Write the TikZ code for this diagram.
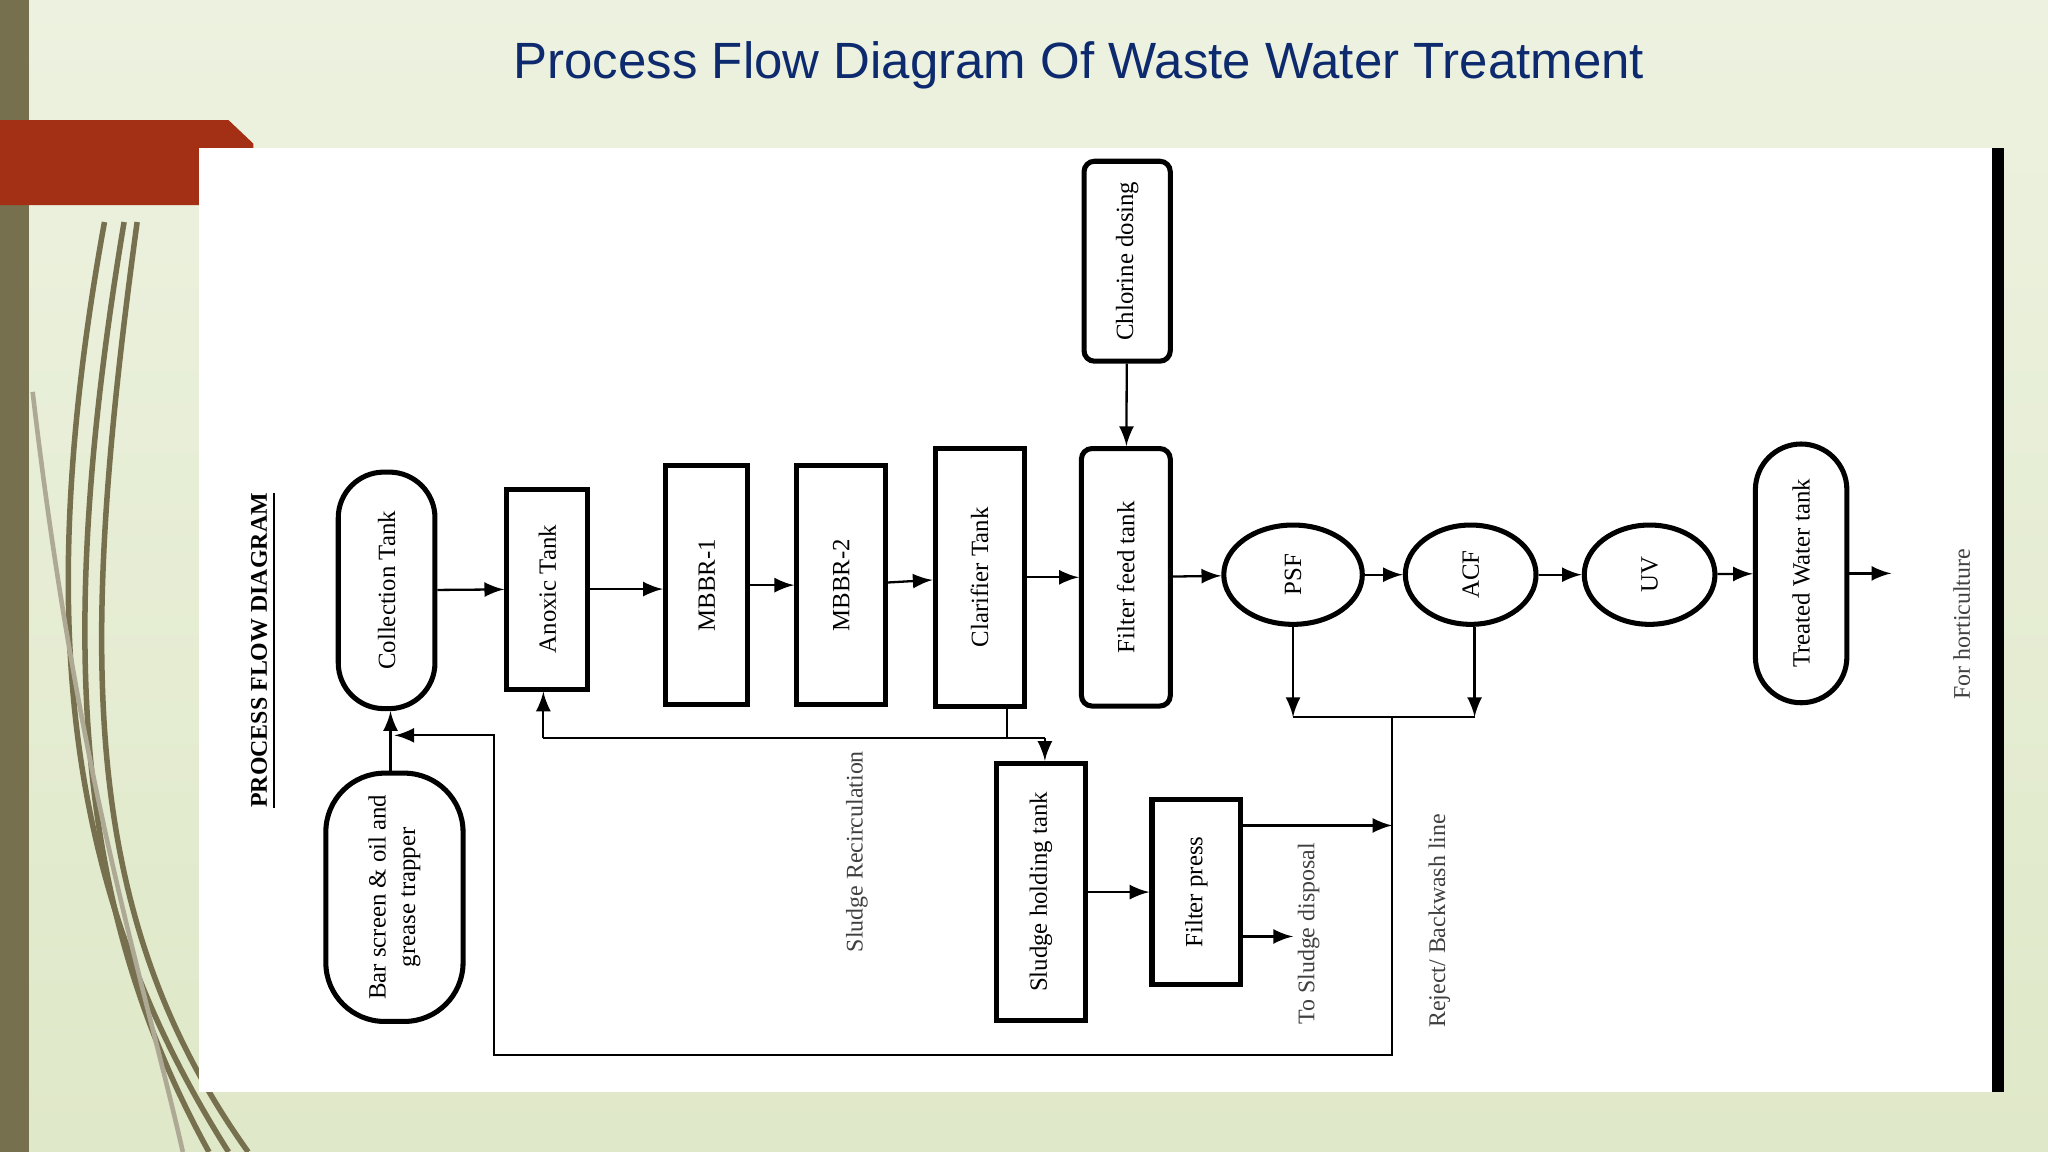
\documentclass[tikz,border=0pt]{standalone}
\usepackage{fontspec}
\setmainfont{Liberation Serif}
\newfontfamily\titlefont{Liberation Sans}
\usetikzlibrary{shapes.geometric, arrows}
\definecolor{slidebg}{HTML}{DFE8C8}
\definecolor{slidetop}{HTML}{EDF2E0}
\definecolor{olivebar}{HTML}{77704F}
\definecolor{tabred}{HTML}{A33014}
\definecolor{navytitle}{HTML}{0E2A6E}
\tikzstyle{tank} = [draw=black, line width=1.1pt, rectangle, rotate=90, text centered, font=\fontsize{5.4}{6.4}\selectfont, inner sep=1pt]
\tikzstyle{roundtank} = [tank, rounded corners=0.35cm]
\tikzstyle{filter} = [draw=black, line width=1.1pt, ellipse, rotate=90, font=\fontsize{5.4}{6.4}\selectfont, inner sep=1pt]
\tikzstyle{note} = [rotate=90, font=\fontsize{5.2}{6.2}\selectfont, text=black!75]
\tikzstyle{arrow} = [line width=0.5pt, ->, >=latex]
\tikzstyle{pipe} = [line width=0.5pt]

\begin{document}
\begin{tikzpicture}[x=0.01cm, y=-0.01cm]
\useasboundingbox (0,0) rectangle (1568,882);
% slide background
\shade[top color=slidetop, bottom color=slidebg] (0,0) rectangle (1568,882);
\fill[olivebar] (0,0) rectangle (22,882);
\foreach \a/\b/\c in {80/20/175, 95/40/160, 105/60/190}
  \draw[olivebar, line width=1.2pt] (\a,170) .. controls (\b,500) and (60,700) .. (\c,882);
\draw[olivebar!60, line width=1pt] (25,300) .. controls (60,600) and (110,750) .. (140,882);
\fill[tabred] (0,92) -- (175,92) -- (194,110) -- (194,157) -- (0,157) -- cycle;
\fill[white] (152,113) rectangle (1525,836);
\fill[black] (1525,113) rectangle (1534,836);
\node (title) at (826,50) {\titlefont\fontsize{11.1}{13}\selectfont\color{navytitle}Process Flow Diagram Of Waste Water Treatment};

% process units
\node (heading) [note, text=black] at (202,498) {\bfseries\underline{PROCESS FLOW DIAGRAM}};
\node (coll) [roundtank, minimum width=1.81cm, minimum height=0.74cm] at (296,452) {Collection Tank};
\node (bar) [roundtank, rounded corners=0.45cm, minimum width=1.9cm, minimum height=1.05cm, align=center] at (302,687) {Bar screen \& oil and\\grease trapper};
\node (anox) [tank, minimum width=1.53cm, minimum height=0.62cm] at (419,451) {Anoxic Tank};
\node (mbbr1) [tank, minimum width=1.83cm, minimum height=0.63cm] at (541,448) {MBBR-1};
\node (mbbr2) [tank, minimum width=1.83cm, minimum height=0.68cm] at (644,448) {MBBR-2};
\node (clar) [tank, minimum width=1.97cm, minimum height=0.68cm] at (750,442) {Clarifier Tank};
\node (ffeed) [tank, rounded corners=0.08cm, minimum width=1.97cm, minimum height=0.68cm] at (862,442) {Filter feed tank};
\node (chlor) [tank, rounded corners=0.08cm, minimum width=1.53cm, minimum height=0.66cm] at (863,200) {Chlorine dosing};
\node (psf) [filter, minimum width=0.76cm, minimum height=1.06cm] at (990,440) {PSF};
\node (acf) [filter, minimum width=0.76cm, minimum height=1.0cm] at (1126,440) {ACF};
\node (uv) [filter, minimum width=0.76cm, minimum height=1.0cm] at (1263,440) {UV};
\node (treat) [roundtank, minimum width=1.98cm, minimum height=0.70cm] at (1379,439) {Treated Water tank};
\node (sludge) [tank, minimum width=1.97cm, minimum height=0.68cm] at (797,683) {Sludge holding tank};
\node (fpress) [tank, minimum width=1.41cm, minimum height=0.68cm] at (916,683) {Filter press};

% labels
\node (horti) [note] at (1502,478) {For horticulture};
\node (recirc) [note] at (656,652) {Sludge Recirculation};
\node (dispose) [note] at (1002,715) {To Sludge disposal};
\node (reject) [note] at (1102,705) {Reject/ Backwash line};

% coordinates of junctions
\coordinate (out) at (1448,439);
\coordinate (recl) at (416,565);
\coordinate (recr) at (800,565);
\coordinate (bwl) at (990,549);
\coordinate (bwr) at (1129,549);
\coordinate (bwm) at (1066,549);
\coordinate (bwin) at (1066,632);
\coordinate (dispend) at (990,717);
\coordinate (barin) at (299,592);

% main line
\draw[arrow] (coll) -- (anox);
\draw[arrow] (anox) -- (anox -| mbbr1.north);
\draw[arrow] (mbbr1) -- (mbbr2);
\draw[arrow] (mbbr2) -- (clar);
\draw[arrow] (clar) -- (clar -| ffeed.north);
\draw[arrow] (ffeed) -- (psf);
\draw[arrow] (psf) -- (acf);
\draw[arrow] (acf) -- (uv);
\draw[arrow] (uv) -- (treat);
\draw[arrow] (treat) -- (out);
\draw[arrow] (chlor) -- (ffeed);
\draw[arrow] (barin) -- (barin |- coll.west);

% sludge recirculation
\draw[pipe] (clar.west -| 771,0) -- (771,565);
\draw[pipe] (recl) -- (recr);
\draw[arrow] (recl) -- (recl |- anox.west);
\draw[arrow] (recr) -- (recr |- sludge.east);
\draw[arrow] (sludge) -- (fpress);
\draw[arrow] (fpress.south |- dispend) -- (dispend);

% reject / backwash
\draw[arrow] (psf.west) -- (bwl);
\draw[arrow] (psf.west -| bwr) -- (bwr);
\draw[pipe] (bwl) -- (bwr);
\draw[arrow] (fpress.south |- bwin) -- (bwin);
\draw[arrow] (bwm) -- (1066,808) -- (378,808) -- (378,563) -- (302,563);
\end{tikzpicture}
\end{document}
